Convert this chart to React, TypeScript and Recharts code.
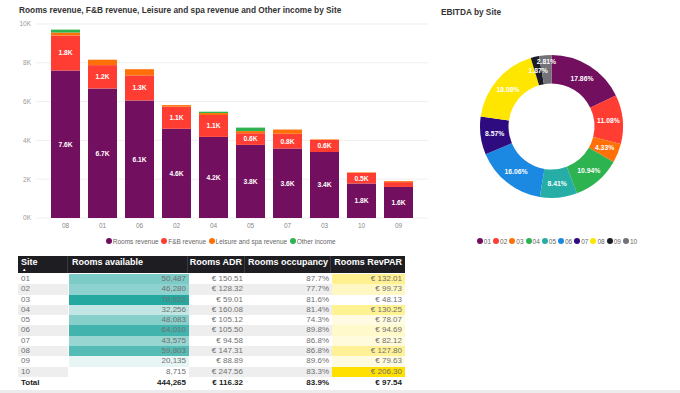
import React from 'react';
import { BarChart, Bar, XAxis, YAxis, CartesianGrid, LabelList, Legend, PieChart, Pie, Cell } from 'recharts';

// ---- Bar chart data ----
const sites = ['08', '01', '06', '02', '04', '05', '07', '03', '10', '09'];
const roomsRevenue = [7600, 6680, 6060, 4600, 4180, 3770, 3580, 3400, 1780, 1600];
const fbRevenue = [1800, 1200, 1290, 1140, 1130, 600, 760, 620, 540, 250];
const leisureRevenue = [160, 280, 320, 80, 100, 110, 220, 30, 30, 50];
const otherIncome = [150, 0, 0, 0, 70, 180, 0, 0, 0, 0];
const yTicks = [0, 2000, 4000, 6000, 8000, 10000];

const barSeries = [
  { key: 'rooms', name: 'Rooms revenue', color: '#720F5E' },
  { key: 'fb', name: 'F&B revenue', color: '#FF3D33' },
  { key: 'leisure', name: 'Leisure and spa revenue', color: '#FF7008' },
  { key: 'other', name: 'Other income', color: '#2DB34F' },
];

// ---- Donut data ----
const ebitdaSites = ['01', '02', '03', '04', '05', '06', '07', '08', '09', '10'];
const ebitdaShare = [17.86, 11.08, 4.33, 10.94, 8.41, 16.06, 8.57, 18.08, 1.87, 2.81];
const ebitdaColors = ['#720F5E', '#FF3D33', '#FF7008', '#2DB34F', '#26ADA6', '#1B88E2', '#2E0C80', '#FFE600', '#1C1C28', '#727278'];

// ---- Table data ----
const tableSites = ['01', '02', '03', '04', '05', '06', '07', '08', '09', '10'];
const roomsAvailable = [50487, 46280, 70922, 32256, 48083, 64010, 43575, 59803, 20135, 8715];
const roomsADR = [150.51, 128.32, 59.01, 160.08, 105.12, 105.5, 94.58, 147.31, 88.89, 247.56];
const roomsOccupancy = [87.7, 77.7, 81.6, 81.4, 74.3, 89.8, 86.8, 86.8, 89.6, 83.3];
const roomsRevPAR = [132.01, 99.73, 48.13, 130.25, 78.07, 94.69, 82.12, 127.8, 79.63, 206.3];
const totalRoomsAvailable = 444265;
const totalADR = 116.32;
const totalOccupancy = 83.9;
const totalRevPAR = 97.54;

const barData = sites.map((s, i) => ({
  site: s,
  rooms: roomsRevenue[i],
  fb: fbRevenue[i],
  leisure: leisureRevenue[i],
  other: otherIncome[i],
}));
const pieData = ebitdaSites.map((s, i) => ({ name: s, value: ebitdaShare[i] }));

const FONT = "'Liberation Sans', Arial, sans-serif";

const kFmt = (v: any) => (typeof v === 'number' && v >= 400 ? (v / 1000).toFixed(1) + 'K' : '');

const BarLegend = () => (
  <div style={{ display: 'flex', justifyContent: 'center', alignItems: 'center', height: 14, fontFamily: FONT, fontSize: 6.5, color: '#666', paddingLeft: 16 }}>
    {barSeries.map((s) => (
      <span key={s.key} style={{ display: 'flex', alignItems: 'center', marginRight: 2.5 }}>
        <span style={{ width: 6, height: 6, borderRadius: 3, background: s.color, display: 'inline-block', marginRight: 1 }} />
        {s.name}
      </span>
    ))}
  </div>
);

const PieLegend = () => (
  <div style={{ display: 'flex', justifyContent: 'center', alignItems: 'center', height: 14, fontFamily: FONT, fontSize: 6.5, color: '#666', paddingRight: 4 }}>
    {ebitdaSites.map((s, i) => (
      <span key={s} style={{ display: 'flex', alignItems: 'center', marginRight: 2 }}>
        <span style={{ width: 6, height: 6, borderRadius: 3, background: ebitdaColors[i], display: 'inline-block', marginRight: 1 }} />
        {s}
      </span>
    ))}
  </div>
);

const RADIAN = Math.PI / 180;
const renderPieLabel = (props: any) => {
  const { cx, cy, midAngle, innerRadius, outerRadius, value, index } = props;
  const r = (innerRadius + outerRadius) / 2;
  const x = cx + r * Math.cos(-midAngle * RADIAN);
  let y = cy + r * Math.sin(-midAngle * RADIAN);
  // avoid collision between the two tiny neighbouring slices at the top
  if (index === ebitdaSites.length - 1) y -= 8;
  return (
    <text x={x} y={y} fill="#fff" textAnchor="middle" dominantBaseline="central" fontSize={6.8} fontWeight="bold" fontFamily={FONT}>
      {value.toFixed(2)}%
    </text>
  );
};

const mix = (a: number[], b: number[], t: number) =>
  `rgb(${a.map((v, i) => Math.round(v + (b[i] - v) * t)).join(',')})`;

const tealScale = (v: number) => {
  const mn = Math.min(...roomsAvailable);
  const mx = Math.max(...roomsAvailable);
  const t = Math.pow((v - mn) / (mx - mn), 1.3);
  return mix([255, 255, 255], [36, 168, 160], t);
};
const yellowScale = (v: number) => {
  const mn = Math.min(...roomsRevPAR);
  const mx = Math.max(...roomsRevPAR);
  const t = Math.pow((v - mn) / (mx - mn), 1.3);
  return mix([255, 255, 255], [255, 224, 0], t);
};

const cols = [
  { w: 50, align: 'left' as const },
  { w: 120, align: 'right' as const },
  { w: 57, align: 'right' as const },
  { w: 86, align: 'right' as const },
  { w: 73, align: 'right' as const },
];
const headers = ['Site', 'Rooms available', 'Rooms ADR', 'Rooms occupancy', 'Rooms RevPAR'];

const Table = () => {
  const rowH = 10.3;
  return (
    <div style={{ position: 'absolute', left: 18, top: 256, width: 387, fontFamily: FONT }}>
      <div style={{ display: 'flex', height: 17, background: '#1e1e22', color: '#fff', fontWeight: 'bold', fontSize: 9 }}>
        {headers.map((h, i) => (
          <div key={h} style={{ width: cols[i].w, textAlign: i === 1 ? 'left' : cols[i].align, padding: i === 0 ? '1px 0 0 3px' : i === 1 ? '1px 0 0 4px' : '1px 2px 0 0', boxSizing: 'border-box', borderRight: i < 4 ? '1px solid #3a3a40' : 'none', position: 'relative', lineHeight: '10px', whiteSpace: 'nowrap' }}>
            {h}
            {i === 0 && (
              <span style={{ position: 'absolute', left: 4, top: 12, fontSize: 4.5, lineHeight: '4.5px' }}>▲</span>
            )}
          </div>
        ))}
      </div>
      <div style={{ height: 1 }} />
      {tableSites.map((s, r) => {
        const bg = r % 2 === 1 ? '#eeeeee' : '#ffffff';
        const cells = [
          s,
          roomsAvailable[r].toLocaleString('en-US'),
          '€ ' + roomsADR[r].toFixed(2),
          roomsOccupancy[r].toFixed(1) + '%',
          '€ ' + roomsRevPAR[r].toFixed(2),
        ];
        const bgs = [bg, tealScale(roomsAvailable[r]), bg, bg, yellowScale(roomsRevPAR[r])];
        return (
          <div key={s} style={{ display: 'flex', height: rowH, fontSize: 8, color: '#707070', lineHeight: rowH + 'px' }}>
            {cells.map((c, i) => (
              <div key={i} style={{ width: cols[i].w, background: bgs[i], textAlign: cols[i].align, padding: i === 0 ? '0 0 0 3px' : '0 3px 0 0', boxSizing: 'border-box', marginRight: i === 0 ? 1 : 0, whiteSpace: 'nowrap' }}>
                {c}
              </div>
            ))}
          </div>
        );
      })}
      <div style={{ display: 'flex', height: 10, fontSize: 8, color: '#222', fontWeight: 'bold', lineHeight: '11px' }}>
        {['Total', totalRoomsAvailable.toLocaleString('en-US'), '€ ' + totalADR.toFixed(2), totalOccupancy.toFixed(1) + '%', '€ ' + totalRevPAR.toFixed(2)].map((c, i) => (
          <div key={i} style={{ width: cols[i].w, textAlign: cols[i].align, padding: i === 0 ? '0 0 0 3px' : '0 3px 0 0', boxSizing: 'border-box', marginRight: i === 0 ? 1 : 0 }}>
            {c}
          </div>
        ))}
      </div>
    </div>
  );
};

export default function App() {
  return (
    <div style={{ position: 'fixed', left: 0, top: 0, width: 680, height: 393, background: '#fff', overflow: 'hidden', fontFamily: FONT }}>
      <div style={{ position: 'absolute', left: 19, top: 5, fontSize: 8.3, fontWeight: 'bold', color: '#333', whiteSpace: 'nowrap' }}>
        Rooms revenue, F&amp;B revenue, Leisure and spa revenue and Other income by Site
      </div>
      <div style={{ position: 'absolute', left: 441, top: 7, fontSize: 8.3, fontWeight: 'bold', color: '#333', whiteSpace: 'nowrap' }}>
        EBITDA by Site
      </div>
      <div style={{ position: 'absolute', left: 0, top: 0 }}>
        <BarChart width={440} height={250} data={barData} margin={{ top: 24, right: 12, left: 0, bottom: 2 }} barSize={29}>
          <CartesianGrid vertical={false} stroke="#efefef" />
          <XAxis dataKey="site" axisLine={false} tickLine={false} tickSize={0} tickMargin={5} height={16} padding={{ left: 11, right: 11 }} tick={{ fontSize: 6.5, fill: '#888', fontFamily: FONT }} interval={0} />
          <YAxis domain={[0, 10000]} ticks={yTicks} axisLine={false} tickLine={false} tickSize={0} tickMargin={5} width={36} tickFormatter={(v: number) => v / 1000 + 'K'} tick={{ fontSize: 6.5, fill: '#999', fontFamily: FONT }} />
          {barSeries.map((s) => (
            <Bar key={s.key} dataKey={s.key} name={s.name} stackId="a" fill={s.color} isAnimationActive={false}>
              {(s.key === 'rooms' || s.key === 'fb') && (
                <LabelList dataKey={s.key} position="center" formatter={kFmt} fill="#fff" fontSize={6.7} fontWeight="bold" fontFamily={FONT} />
              )}
            </Bar>
          ))}
          <Legend verticalAlign="bottom" content={<BarLegend />} />
        </BarChart>
      </div>
      <div style={{ position: 'absolute', left: 440, top: 0 }}>
        <PieChart width={240} height={250} margin={{ top: 0, right: 0, left: 0, bottom: 0 }}>
          <Pie data={pieData} dataKey="value" nameKey="name" cx={111.5} cy={126.5} innerRadius={43} outerRadius={71.5} startAngle={90} endAngle={-270} stroke="none" isAnimationActive={false} label={renderPieLabel} labelLine={false}>
            {pieData.map((d, i) => (
              <Cell key={d.name} fill={ebitdaColors[i]} />
            ))}
          </Pie>
          <Legend verticalAlign="bottom" content={<PieLegend />} wrapperStyle={{ position: 'absolute', top: 234, left: 0, width: 240 }} />
        </PieChart>
      </div>
      <Table />
      <div style={{ position: 'absolute', left: 0, top: 390, width: 680, height: 3, background: '#ececec' }} />
    </div>
  );
}
